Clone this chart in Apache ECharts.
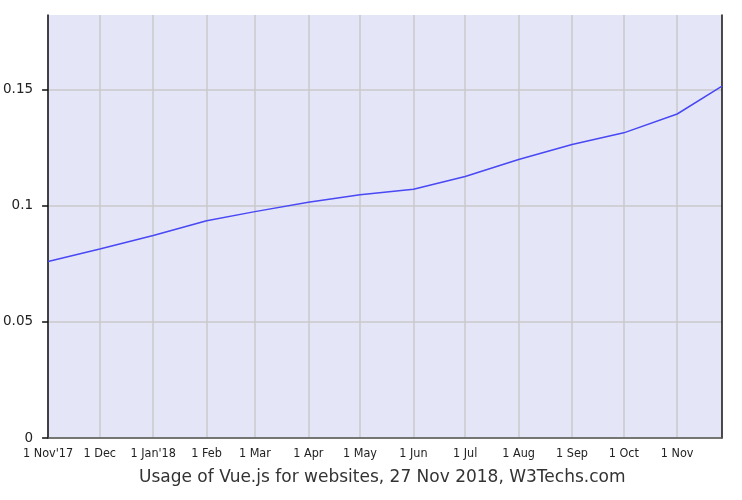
<!DOCTYPE html>
<html>
<head>
<meta charset="utf-8">
<script src="https://cdn.jsdelivr.net/npm/echarts@6/dist/echarts.min.js"></script>
<style>
  html, body { margin: 0; padding: 0; background: #fff; }
  #main { width: 742px; height: 500px; }
</style>
</head>
<body>
<div id="main"></div>
<script>
// sample dates (first of each month + day of the report)
var dates = ['2017-11-01', '2017-12-01', '2018-01-01', '2018-02-01', '2018-03-01', '2018-04-01',
  '2018-05-01', '2018-06-01', '2018-07-01', '2018-08-01', '2018-09-01', '2018-10-01',
  '2018-11-01', '2018-11-27'];
// usage in percent of all websites
var usage = [0.0759, 0.0813, 0.0871, 0.0935, 0.0974, 0.1014, 0.1047, 0.1070,
  0.1125, 0.1198, 0.1263, 0.1313, 0.1394, 0.1514];
// x axis ticks
var tickDates = ['2017-11-01', '2017-12-01', '2018-01-01', '2018-02-01', '2018-03-01', '2018-04-01',
  '2018-05-01', '2018-06-01', '2018-07-01', '2018-08-01', '2018-09-01', '2018-10-01', '2018-11-01'];
var tickLabels = ["1 Nov'17", '1 Dec', "1 Jan'18", '1 Feb', '1 Mar', '1 Apr', '1 May',
  '1 Jun', '1 Jul', '1 Aug', '1 Sep', '1 Oct', '1 Nov'];
var yTicks = [0, 0.05, 0.1, 0.15];
var yLabels = ['0', '0.05', '0.1', '0.15'];

// days since the first date, so the x axis can be a plain value axis
function toDay(s) {
  var p = s.split('-');
  return Math.round((Date.UTC(+p[0], +p[1] - 1, +p[2]) - Date.UTC(2017, 10, 1)) / 86400000);
}
var tickDays = tickDates.map(toDay);
var seriesData = dates.map(function (d, i) { return [toDay(d), usage[i]]; });

var myChart = echarts.init(document.getElementById('main'));
var option = {
  animation: false,
  backgroundColor: '#fff',
  title: {
    text: 'Usage of Vue.js for websites, 27 Nov 2018, W3Techs.com',
    left: 139,
    top: 469,
    padding: 0,
    textStyle: { fontFamily: 'DejaVu Sans', fontSize: 17, fontWeight: 'normal', color: '#333' }
  },
  grid: {
    left: 47.5, top: 15, right: 20, bottom: 62,
    show: true, backgroundColor: '#e5e5f8', borderWidth: 0
  },
  xAxis: {
    type: 'value',
    min: 0,
    max: toDay(dates[dates.length - 1]),
    axisLine: { lineStyle: { color: '#555', width: 1.5 } },
    axisTick: { show: false, customValues: tickDays },
    axisLabel: {
      customValues: tickDays,
      margin: 9,
      fontFamily: 'DejaVu Sans Condensed',
      fontSize: 12.5,
      color: '#222',
      hideOverlap: false,
      formatter: function (v) {
        var i = tickDays.indexOf(v);
        return i >= 0 ? tickLabels[i] : '';
      }
    },
    splitLine: { show: true, lineStyle: { color: '#c8c8cc', width: 1.5 } }
  },
  yAxis: [{
    type: 'value',
    min: 0,
    max: 0.182,
    axisLine: { show: true, lineStyle: { color: '#111', width: 1.5 } },
    axisTick: { show: true, length: 6, customValues: yTicks, lineStyle: { color: '#111', width: 1.5 } },
    axisLabel: {
      customValues: yTicks,
      margin: 15,
      fontFamily: 'DejaVu Sans',
      fontSize: 13.5,
      color: '#222',
      formatter: function (v) {
        var i = yTicks.indexOf(v);
        return i >= 0 ? yLabels[i] : '';
      }
    },
    splitLine: { show: true, lineStyle: { color: '#c8c8cc', width: 1.5 } }
  }, {
    type: 'value',
    position: 'right',
    min: 0,
    max: 0.182,
    axisLine: { show: true, lineStyle: { color: '#111', width: 1.5 } },
    axisTick: { show: false },
    axisLabel: { show: false },
    splitLine: { show: false }
  }],
  series: [{
    type: 'line',
    yAxisIndex: 0,
    data: seriesData,
    showSymbol: false,
    lineStyle: { color: '#4848f4', width: 1.5 },
    z: 5
  }]
};
myChart.setOption(option);
</script>
</body>
</html>
